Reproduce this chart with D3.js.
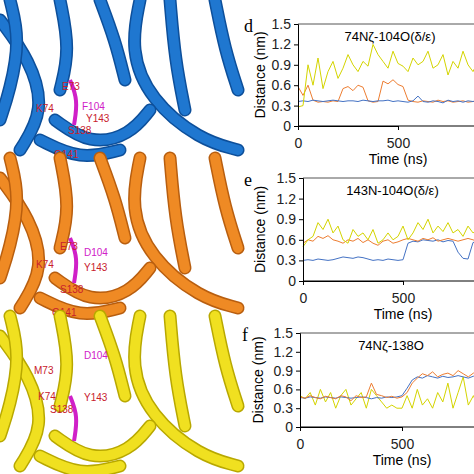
<!DOCTYPE html>
<html><head><meta charset="utf-8">
<script src="https://cdn.jsdelivr.net/npm/d3@7"></script>
<style>body{margin:0;background:#fff}</style>
</head><body>
<svg id="fig" width="474" height="474"></svg>
<script>
// time axis (ns), one sample every 25 ns
const times = d3.range(0, 975, 25)
const yTicks = [0, 0.3, 0.6, 0.9, 1.2, 1.5]
const xTicks = [0, 500]

const dBlue   = [0.36,0.37,0.36,0.38,0.37,0.36,0.37,0.38,0.37,0.36,0.37,0.37,0.36,0.38,0.37,0.36,0.37,0.37,0.38,0.36,0.37,0.36,0.35,0.37,0.44,0.36,0.35,0.37,0.36,0.34,0.38,0.36,0.37,0.35,0.37,0.36,0.38,0.37,0.36]
const dOrange = [0.58,0.45,0.6,0.38,0.35,0.36,0.35,0.37,0.36,0.55,0.58,0.52,0.6,0.57,0.37,0.35,0.36,0.66,0.62,0.68,0.61,0.58,0.38,0.36,0.35,0.37,0.36,0.35,0.38,0.36,0.37,0.35,0.36,0.37,0.35,0.36,0.37,0.35,0.36]
const dYellow = [0.28,0.3,0.9,0.6,1.0,0.55,0.8,0.95,0.7,0.85,1.05,0.9,0.8,0.95,0.88,1.2,1.05,0.95,0.85,1.1,0.92,0.88,0.8,1.0,0.9,0.95,1.1,0.85,0.9,1.05,0.75,0.95,0.85,1.1,0.9,0.8,0.95,0.85,0.9]

const eBlue   = [0.3,0.31,0.3,0.32,0.31,0.3,0.31,0.33,0.35,0.34,0.33,0.35,0.34,0.32,0.3,0.31,0.3,0.32,0.31,0.3,0.31,0.55,0.58,0.57,0.6,0.59,0.58,0.6,0.57,0.59,0.58,0.42,0.33,0.32,0.56,0.58,0.6,0.57,0.59]
const eOrange = [0.55,0.6,0.58,0.65,0.62,0.66,0.6,0.58,0.55,0.6,0.58,0.62,0.56,0.6,0.55,0.52,0.58,0.6,0.55,0.57,0.6,0.62,0.6,0.58,0.62,0.6,0.63,0.58,0.6,0.62,0.6,0.58,0.6,0.62,0.6,0.57,0.6,0.58,0.6]
const eYellow = [0.5,0.6,0.65,0.85,0.75,0.9,0.7,0.8,0.6,0.55,0.75,0.65,0.7,0.6,0.75,0.55,0.6,0.7,0.6,0.65,0.8,0.6,0.7,0.85,0.75,0.9,0.7,0.8,0.72,0.85,0.7,0.75,0.65,0.8,0.7,0.75,0.85,0.7,0.78]

const fBlue   = [0.47,0.46,0.48,0.47,0.46,0.48,0.47,0.46,0.48,0.47,0.46,0.47,0.48,0.47,0.45,0.47,0.46,0.48,0.47,0.48,0.5,0.62,0.75,0.8,0.78,0.82,0.8,0.78,0.81,0.79,0.8,0.82,0.8,0.78,0.81,0.8,0.79,0.82,0.8]
const fOrange = [0.48,0.46,0.5,0.47,0.45,0.49,0.47,0.45,0.5,0.48,0.42,0.5,0.47,0.48,0.7,0.52,0.5,0.47,0.49,0.46,0.48,0.55,0.7,0.78,0.85,0.82,0.88,0.8,0.84,0.86,0.82,0.9,0.85,0.8,0.86,0.88,0.84,0.9,0.86]
const fYellow = [0.5,0.45,0.55,0.35,0.6,0.4,0.55,0.3,0.5,0.6,0.35,0.45,0.55,0.3,0.6,0.5,0.4,0.3,0.35,0.3,0.3,0.5,0.3,0.6,0.35,0.45,0.3,0.55,0.4,0.7,0.3,0.55,0.8,0.35,0.5,0.3,0.45,0.55,0.4]

const panels = [
  { tag: 'd', title: '74N\u03b6-104O(\u03b4/\u03b5)', x0: 298, x5: 398, yTop: 24, yBot: 126, labX: 244, series: [dOrange, dBlue, dYellow] },
  { tag: 'e', title: '143N-104O(\u03b4/\u03b5)', x0: 303, x5: 403, yTop: 178, yBot: 281, labX: 244, series: [eBlue, eOrange, eYellow] },
  { tag: 'f', title: '74N\u03b6-138O', x0: 300, x5: 402, yTop: 333, yBot: 427, labX: 242, series: [fYellow, fBlue, fOrange] }
]
const colours = { blue: '#4472c4', orange: '#ed7d31', yellow: '#d4d400' }
const font = 'Arial, Liberation Sans, sans-serif'

const svg = d3.select('#fig')

// ---- left: cartoon protein panels (rough ribbon sketch) ----
const protein = [
  { y: 0, fill: '#1f77d0', dark: '#0d4f9a', labels: [['E73',62,90],['K74',36,112],['F104',82,110],['Y143',86,122],['S138',68,134],['G141',54,158]] },
  { y: 158, fill: '#ef8a24', dark: '#b85e0f', labels: [['E73',60,92],['K74',36,110],['D104',84,98],['Y143',84,113],['S138',60,135],['G141',52,158]] },
  { y: 316, fill: '#f0e020', dark: '#b8a800', labels: [['M73',34,58],['K74',38,84],['D104',84,43],['Y143',84,85],['S138',50,97]] }
]
const ribbon = d3.line().curve(d3.curveBasis)
protein.forEach(p => {
  const g = svg.append('g').attr('transform', `translate(0,${p.y})`)
  const paths = [
    [[0,20],[30,60],[45,110],[20,150]],
    [[60,0],[70,50],[60,90]],
    [[10,0],[20,40],[10,90],[0,120]],
    [[140,0],[130,50],[150,100],[200,140],[238,150]],
    [[170,0],[175,60],[185,110]],
    [[215,0],[225,50],[238,90]],
    [[100,0],[115,40],[125,80]],
    [[55,120],[90,145],[130,135],[150,110]],
    [[40,140],[80,160],[120,150]]
  ]
  paths.forEach(pt => {
    g.append('path').attr('d', ribbon(pt)).attr('fill', 'none')
      .attr('stroke', p.dark).attr('stroke-width', 13).attr('stroke-linecap', 'round')
    g.append('path').attr('d', ribbon(pt)).attr('fill', 'none')
      .attr('stroke', p.fill).attr('stroke-width', 10).attr('stroke-linecap', 'round')
  })
  g.append('path').attr('d', ribbon([[70,80],[78,100],[74,125]])).attr('fill', 'none')
    .attr('stroke', '#d020c8').attr('stroke-width', 4)
  p.labels.forEach(([t, x, y]) => {
    g.append('text').attr('x', x).attr('y', y).text(t)
      .attr('font-family', font).attr('font-size', 10)
      .attr('fill', t.endsWith('104') ? '#d020c8' : '#c8202c')
  })
})

// ---- right: distance traces ----
panels.forEach(p => {
  const x = d3.scaleLinear().domain([0, 500]).range([p.x0, p.x5])
  const y = d3.scaleLinear().domain([0, 1.5]).range([p.yBot, p.yTop])
  const g = svg.append('g')
  g.append('rect').attr('x', p.x0).attr('y', p.yTop).attr('width', 474 - p.x0).attr('height', p.yBot - p.yTop).attr('fill', '#fff')
  const colourOf = s => s === dBlue || s === eBlue || s === fBlue ? colours.blue
    : (s === dOrange || s === eOrange || s === fOrange ? colours.orange : colours.yellow)
  const line = d3.line().x((d, i) => x(times[i])).y(d => y(d))
  p.series.forEach(s => {
    g.append('path').datum(s).attr('d', line).attr('fill', 'none')
      .attr('stroke', colourOf(s)).attr('stroke-width', 1)
  })
  g.append('line').attr('x1', p.x0).attr('x2', 474).attr('y1', p.yTop).attr('y2', p.yTop).attr('stroke', '#555')
  const ax = g.append('g').attr('transform', `translate(0,${p.yBot})`)
    .call(d3.axisBottom(x).tickValues(xTicks).tickSize(4))
  const ay = g.append('g').attr('transform', `translate(${p.x0},0)`)
    .call(d3.axisLeft(y).tickValues(yTicks).tickFormat(d3.format('')).tickSize(4))
  g.append('line').attr('x1', p.x0).attr('x2', 474).attr('y1', p.yBot).attr('y2', p.yBot).attr('stroke', '#000')
  ;[ax, ay].forEach(a => a.selectAll('text').attr('font-size', 14).attr('font-family', font).attr('fill', '#222'))
  ax.selectAll('text').attr('dy', '1.1em')
  g.append('text').attr('x', (p.x0 + 474) / 2 + 4).attr('y', p.yTop + 17).attr('text-anchor', 'middle')
    .attr('font-size', 13).attr('font-family', font).text(p.title)
  g.append('text').attr('x', x(500)).attr('y', p.yBot + 38).attr('text-anchor', 'middle')
    .attr('font-size', 14).attr('font-family', font).text('Time (ns)')
  g.append('text').attr('transform', `translate(${p.labX + 21},${(p.yTop + p.yBot) / 2}) rotate(-90)`)
    .attr('text-anchor', 'middle').attr('font-size', 14).attr('font-family', font).text('Distance (nm)')
  g.append('text').attr('x', p.labX).attr('y', p.yTop + 8).text(p.tag)
    .attr('font-size', 18).attr('font-family', 'Times New Roman, Liberation Serif, serif')
})
</script>
</body></html>
